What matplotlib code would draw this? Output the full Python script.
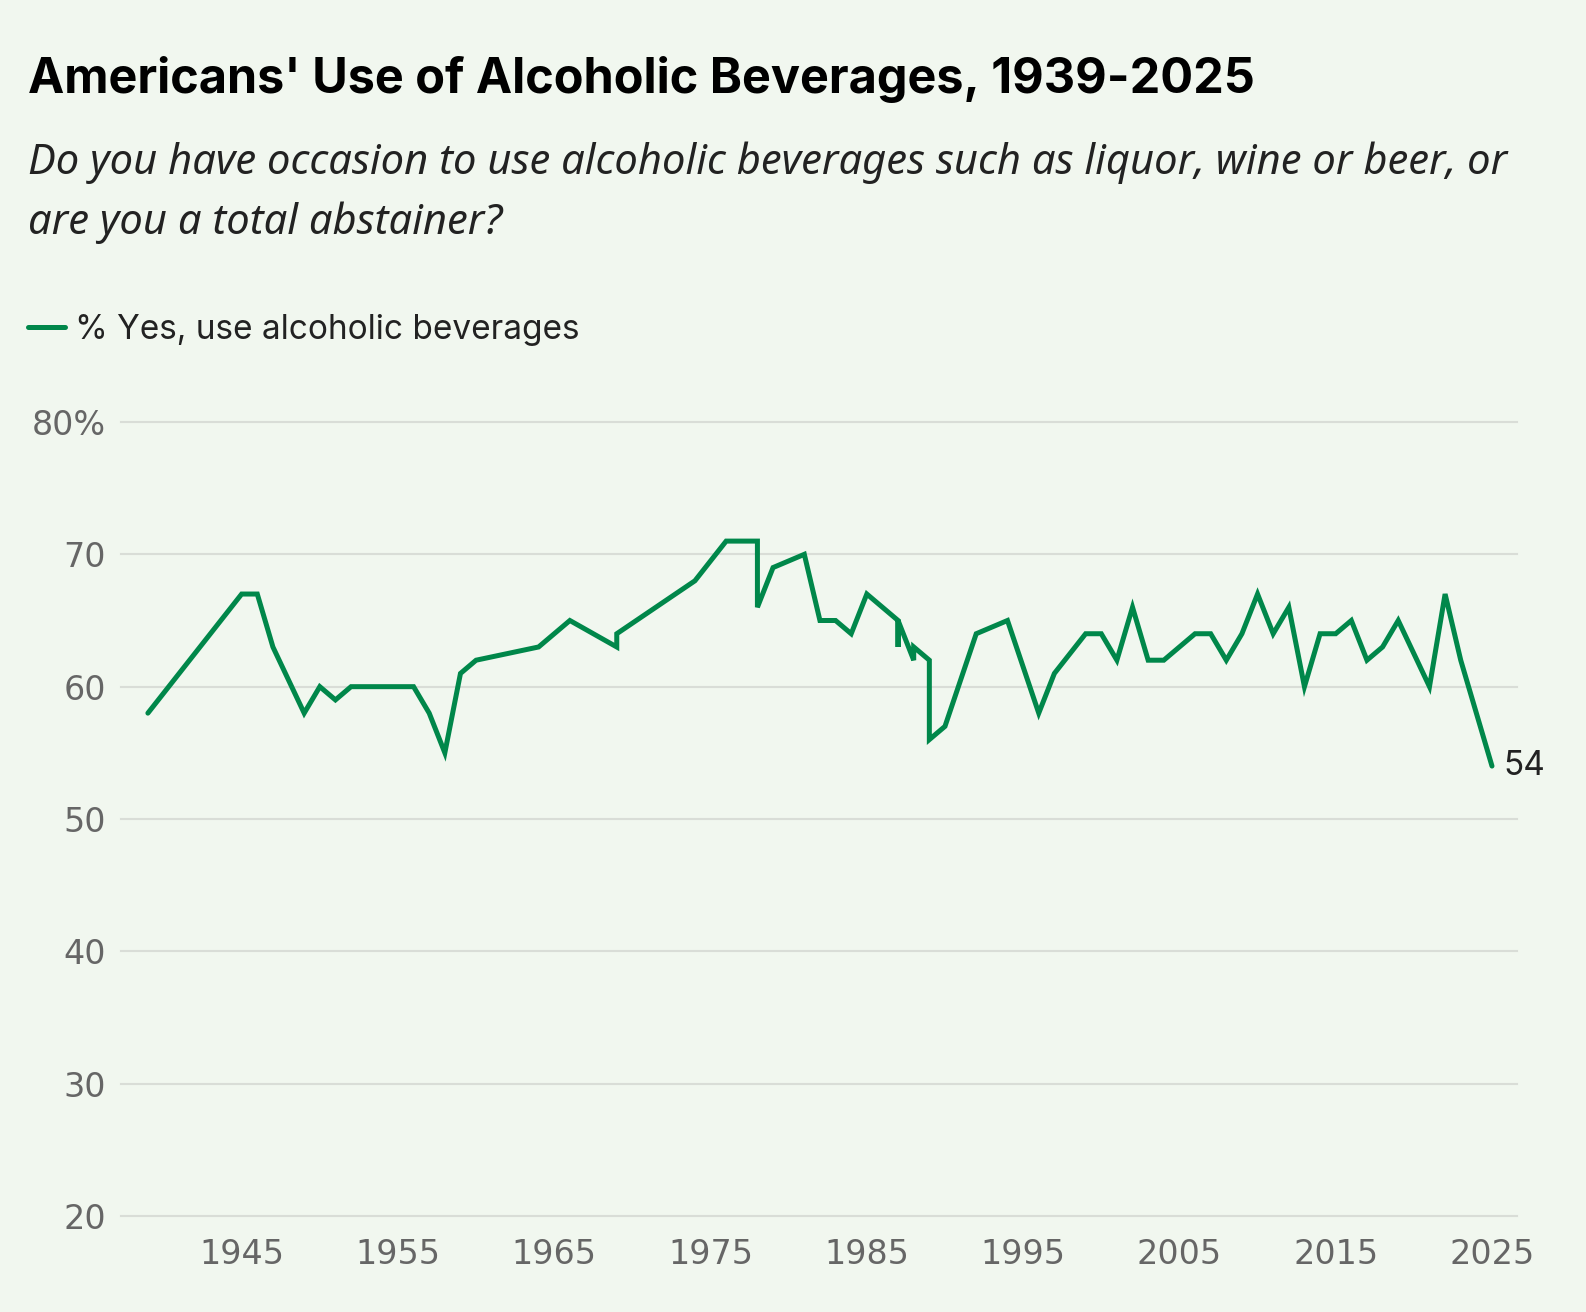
import matplotlib
matplotlib.use("Agg")
import matplotlib.pyplot as plt
from matplotlib.ticker import FixedLocator, FixedFormatter

# ---- data ----
years = [1939, 1945, 1946, 1947, 1949, 1950, 1951, 1952, 1956, 1957, 1958, 1959, 1960,
         1964, 1966, 1969, 1969, 1974, 1976, 1977, 1978, 1978, 1979, 1981, 1982, 1983,
         1984, 1985, 1987, 1987, 1987, 1988, 1988, 1989, 1989, 1990, 1992, 1994, 1996,
         1997, 1999, 2000, 2001, 2002, 2003, 2004, 2006, 2007, 2008, 2009, 2010, 2011,
         2012, 2013, 2014, 2015, 2016, 2017, 2018, 2019, 2021, 2022, 2023, 2025]
pct_yes = [58, 67, 67, 63, 58, 60, 59, 60, 60, 58, 55, 61, 62,
           63, 65, 63, 64, 68, 71, 71, 71, 66, 69, 70, 65, 65,
           64, 67, 65, 63, 65, 62, 63, 62, 56, 57, 64, 65, 58,
           61, 64, 64, 62, 66, 62, 62, 64, 64, 62, 64, 67, 64,
           66, 60, 64, 64, 65, 62, 63, 65, 60, 67, 62, 54]
series_label = "% Yes, use alcoholic beverages"
x_ticks = [1945, 1955, 1965, 1975, 1985, 1995, 2005, 2015, 2025]
y_ticks = [20, 30, 40, 50, 60, 70, 80]
y_tick_labels = ["20", "30", "40", "50", "60", "70", "80%"]
title = "Americans' Use of Alcoholic Beverages, 1939-2025"
subtitle_lines = ["Do you have occasion to use alcoholic beverages such as liquor, wine or beer, or",
                  "are you a total abstainer?"]

# ---- style ----
BG = "#f1f7ef"
GREEN = "#00874a"
GRID = "#d9ddd7"
TICK = "#666666"
DARK = "#222222"
W, H = 1586, 1312

fig = plt.figure(figsize=(W / 100, H / 100), dpi=100, facecolor=BG)
ax = fig.add_axes([121 / W, 1 - 1216 / H, (1517 - 121) / W, (1216 - 422) / H])
ax.set_facecolor(BG)

ax.plot(years, pct_yes, color=GREEN, lw=3.6, solid_joinstyle="miter",
        solid_capstyle="round", label=series_label, zorder=3)

ax.set_xlim(1937.28, 2026.6)
ax.set_ylim(20, 80)
for v in y_ticks:
    ax.axhline(v, color=GRID, lw=1.5, zorder=1, clip_on=False)
for s in ax.spines.values():
    s.set_visible(False)

ax.yaxis.set_major_locator(FixedLocator(y_ticks))
ax.yaxis.set_major_formatter(FixedFormatter(y_tick_labels))
ax.xaxis.set_major_locator(FixedLocator(x_ticks))
ax.tick_params(axis="both", length=0, labelsize=24, labelcolor=TICK)
ax.tick_params(axis="y", pad=11)
ax.tick_params(axis="x", pad=16)
for lab in ax.get_xticklabels() + ax.get_yticklabels():
    lab.set_family("DejaVu Sans")

ax.annotate(f"{pct_yes[-1]}", xy=(years[-1], pct_yes[-1]), xytext=(8, 0),
            textcoords="offset points", va="center", ha="left",
            fontsize=24, color=DARK, family="Inter")

fig.text(28 / W, 1 - 93 / H, title, ha="left", va="baseline",
         fontsize=35, fontweight="bold", color="#000000", family="Inter")
for i, line in enumerate(subtitle_lines):
    fig.text(28 / W, 1 - (174 + 60 * i) / H, line, ha="left", va="baseline",
             fontsize=30, style="italic", color=DARK, family="Noto Sans")

leg = ax.legend(loc="center left", bbox_to_anchor=(28 / W, 1 - 330 / H),
                bbox_transform=fig.transFigure, frameon=False, borderpad=0,
                borderaxespad=0, handlelength=1.1, handletextpad=0.3,
                prop={"family": "Inter", "size": 24})
for t in leg.get_texts():
    t.set_color(DARK)

fig.savefig("out.png", dpi=100, facecolor=BG)
